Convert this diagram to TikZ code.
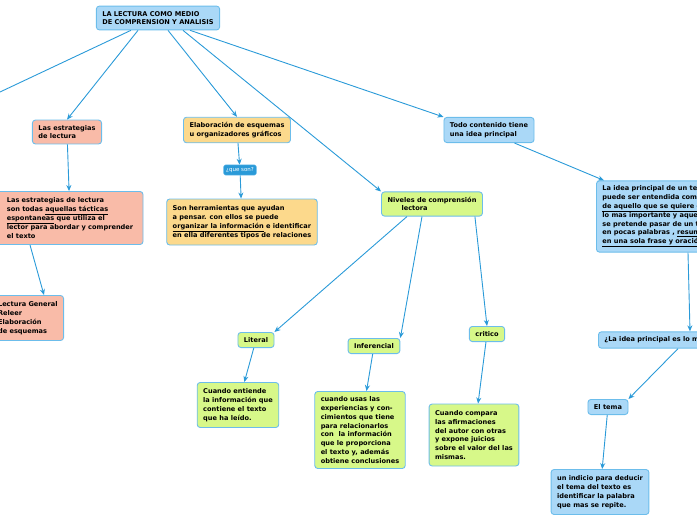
\documentclass[tikz,border=0pt]{standalone}
\usepackage{fontspec}
\setmainfont{DejaVu Sans}
\usetikzlibrary{arrows.meta,positioning}
\definecolor{linea}{HTML}{2A9AD8}
\definecolor{borde}{HTML}{6CBDEB}
\definecolor{azulc}{HTML}{AAD8F7}
\definecolor{salmon}{HTML}{F9BBA8}
\definecolor{amarillo}{HTML}{FCD98C}
\definecolor{verde}{HTML}{D7F889}
\tikzset{
  caja/.style={draw=borde, line width=0.9pt, rounded corners=3pt, align=left,
    inner xsep=6pt, inner ysep=5pt, font=\fontsize{6.6}{8.8}\selectfont\bfseries},
  flecha/.style={draw=linea, line width=0.9pt, -{Stealth[length=6pt,width=5pt]}}
}
\begin{document}
\begin{tikzpicture}[x=1pt,y=-1pt]
  \useasboundingbox (0,0) rectangle (697,520);
  \clip (0,0) rectangle (697,520);

  % raiz
  \node[caja, fill=azulc] (raiz) at (158,18) {LA LECTURA COMO MEDIO\\DE COMPRENSION Y ANALISIS};
  \coordinate (fuera) at (0,92);

  % rama estrategias
  \node[caja, fill=salmon] (estr) at (67,132) {Las estrategias\\de lectura};
  \node[caja, fill=salmon, minimum width=146pt, minimum height=53pt] (estrdef) at (70,218)
    {Las estrategias de lectura\\son todas \underline{aquellas tácticas}\\\underline{espontaneas} que utiliza el\\lector para abordar y comprender\\el texto};
  \node[caja, fill=salmon, minimum height=45pt, anchor=east] (pasos) at (64,318)
    {Lectura General\\Releer\\Elaboración\\de esquemas};

  % rama esquemas
  \node[caja, fill=amarillo] (esq) at (237,130) {Elaboración de esquemas\\u organizadores gráficos};
  \node[draw=borde, fill=linea, rounded corners=2pt, text=white, inner sep=2.5pt,
    font=\fontsize{5.5}{6}\selectfont] (queson) at (240,170) {¿que son?};
  \node[caja, fill=amarillo, minimum height=46pt] (herr) at (242,222)
    {Son herramientas que ayudan\\a pensar. con ellos se puede\\\underline{organizar la información} e identificar\\en ella diferentes tipos de relaciones};

  % rama niveles
  \node[caja, fill=verde] (niv) at (432,204) {Niveles de comprensión\\\hspace{14pt}lectora};
  \node[caja, fill=verde] (lit) at (256,340) {Literal};
  \node[caja, fill=verde] (inf) at (374,346) {Inferencial};
  \node[caja, fill=verde] (cri) at (487,334) {critico};
  \node[caja, fill=verde, minimum height=45pt] (litdef) at (238,405)
    {Cuando entiende\\la información que\\contiene el texto\\que ha leído.};
  \node[caja, fill=verde, minimum height=77pt] (infdef) at (360,430)
    {cuando usas las\\experiencias y con-\\cimientos que tiene\\para relacionarlos\\con\ \ la información\\que le proporciona\\el texto y, además\\obtiene conclusiones};
  \node[caja, fill=verde, minimum height=62pt] (cridef) at (474,435)
    {Cuando compara\\las afirmaciones\\del autor con otras\\y expone juicios\\sobre el valor del las\\mismas.};

  % rama idea principal
  \node[caja, fill=azulc] (todo) at (489,130) {Todo contenido tiene\\una idea principal};
  \node[caja, fill=azulc, anchor=west, minimum height=71pt] (idea) at (596,216.5)
    {La idea principal de un texto\\puede ser entendida como la\\\underline{de aquello que se quiere decir},\\lo mas importante y aquello que\\se pretende pasar de un texto\\en pocas palabras , \underline{resumido}\\\underline{en una sola frase y oración}};
  \node[caja, fill=azulc, anchor=west] (es) at (598,340) {¿La idea principal es lo mismo que el tema?};
  \node[caja, fill=azulc] (tema) at (608,407) {El tema};
  \node[caja, fill=azulc, minimum height=45pt] (tdef) at (600,492)
    {un indicio para deducir\\el tema del texto es\\identificar la palabra\\que mas se repite.};

  % conectores
  \draw[line width=0.9pt, draw=linea] (raiz.south west) ++(35,0) -- (fuera);
  \draw[flecha] ([xshift=-20pt]raiz.south) -- (estr.north);
  \draw[flecha] ([xshift=10pt]raiz.south) -- (esq.north);
  \draw[flecha] ([xshift=25pt]raiz.south) -- (niv.north west);
  \draw[flecha] (raiz.south east) ++(-30,0) -- (todo.north west);
  \draw[flecha] (estr) -- (estrdef);
  \draw[flecha] ([xshift=-40pt]estrdef.south) -- ([xshift=-20pt]pasos.north east);
  \draw[flecha] (esq) -- (queson);
  \draw[flecha] (queson) -- (herr);
  \draw[flecha] ([xshift=-25pt]niv.south) -- (lit.north east);
  \draw[flecha] ([xshift=-10pt]niv.south) -- (inf.north east);
  \draw[flecha] ([xshift=-8pt]niv.south east) -- (cri.north);
  \draw[flecha] (lit) -- (litdef);
  \draw[flecha] (inf) -- (infdef);
  \draw[flecha] (cri) -- (cridef);
  \draw[flecha] ([xshift=-20pt]todo.south east) -- ([xshift=8pt]idea.north west);
  \draw[flecha] ([xshift=92pt]idea.south west) -- ([xshift=92pt]es.north west);
  \draw[flecha] ([xshift=80pt]es.south west) -- (tema.north east);
  \draw[flecha] (tema) -- (tdef);
\end{tikzpicture}
\end{document}
